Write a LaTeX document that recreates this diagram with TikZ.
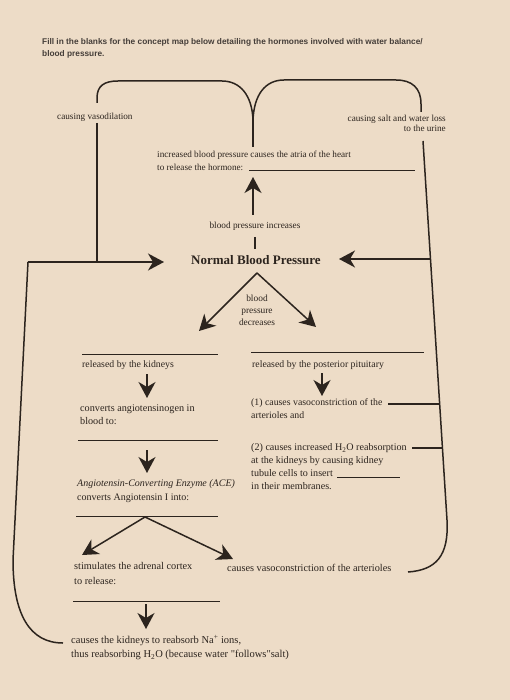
\documentclass[tikz,border=0pt]{standalone}
\usepackage{fontspec}
\setmainfont{Liberation Serif}
\newfontfamily\titlefont{Liberation Sans}
\usetikzlibrary{arrows.meta}
\definecolor{paper}{RGB}{237,220,199}
\definecolor{ink}{RGB}{44,36,30}
\newcommand{\fsz}[2]{\fontsize{#1}{#2}\selectfont}
\begin{document}
\begin{tikzpicture}[x=1pt,y=-1pt,
  ln/.style={draw=ink,line width=1.5pt},
  blank/.style={draw=ink,line width=0.8pt},
  arr/.style={ln,-{Stealth[length=16pt,width=17pt,inset=5pt]}},
  txt/.style={text=ink,font=\fsz{9.2}{13},inner sep=0pt,align=left,anchor=north west},
  ctxt/.style={txt,align=center,anchor=north},
  title/.style={text=ink!88,font=\titlefont\bfseries\fsz{8.3}{12.5},inner sep=0pt,align=left,anchor=north west}]
\fill[paper] (0,0) rectangle (510,700);
\useasboundingbox (0,0) rectangle (510,700);

% title
\node[title] (ttl) at (42,38) {Fill in the blanks for the concept map below detailing the hormones involved with water balance/\\blood pressure.};

% top labels
\node[txt,anchor=west] (vaso) at (57,117) {causing vasodilation};
\node[txt,align=right,anchor=north east,font=\fsz{9.2}{10}] (salt) at (446,115) {causing salt and water loss\\to the urine};

% top bracket
\coordinate (cusp) at (253,120);
\draw[ln] (97,103) -- (97,98) .. controls (97,86) and (104,81) .. (118,81) -- (222,81)
  .. controls (240,81) and (252,95) .. (cusp)
  .. controls (254,95) and (265,80) .. (284,80) -- (396,80)
  .. controls (412,80) and (421,88) .. (421,104) -- (421,112);
\draw[ln] (cusp) -- (253,147);

% atria text
\node[txt] (atria) at (157,150.8) {increased blood pressure causes the atria of the heart\\to release the hormone:};
\draw[blank] (249,170) -- (415,170);

% up arrow
\node[ctxt,anchor=center,font=\fsz{9.3}{13}] (bpi) at (255,226) {blood pressure increases};
\draw[arr] (253,215) -- (253,177);
\draw[ln] (255,237) -- (255,249);

% normal BP
\node[text=ink,font=\bfseries\fsz{13}{15},inner sep=0pt] (nbp) at (256,260) {Normal Blood Pressure};

% left system
\coordinate (Ltop) at (97,123);
\coordinate (Lj) at (97,262);
\coordinate (Lc) at (28,262);
\draw[ln] (Ltop) -- (Lj);
\draw[arr] (Lc) -- (164,262);
\draw[ln] (Lc) -- (13,560) .. controls (13,615) and (30,643) .. (63,643);

% right system
\coordinate (Rtop) at (423,141);
\coordinate (Rj) at (430,259);
\draw[ln] (Rtop) -- (447,520) .. controls (449,556) and (436,570) .. (408,572);
\draw[arr] (Rj) -- (339,259);

% decreases split
\coordinate (apex) at (257,273);
\draw[arr] (apex) -- (199,331);
\draw[arr] (apex) -- (316,327);
\node[ctxt,font=\fsz{9.4}{12}] (bpd) at (257,294.6) {blood\\pressure\\decreases};

% left column
\draw[blank] (82,354) -- (218,354);
\node[txt,anchor=west,font=\fsz{9.8}{13}] (kid) at (82,365.5) {released by the kidneys};
\draw[arr] (147,374) -- (147,398);
\node[txt,font=\fsz{10.2}{13}] (conv) at (80,404.3) {converts angiotensinogen in\\blood to:};
\draw[blank] (78,440) -- (218,440);
\draw[arr] (147,450) -- (147,473);
\node[txt,font=\itshape\fsz{10}{14}] (ace) at (77,479.4) {Angiotensin-Converting Enzyme (ACE)\\\upshape converts Angiotensin I into:};
\draw[blank] (76,516) -- (218,516);
\coordinate (apex2) at (145,517);
\draw[arr] (apex2) -- (82,555);
\draw[arr] (apex2) -- (233,559);
\node[txt,font=\fsz{10.3}{14.5}] (adr) at (74,562.3) {stimulates the adrenal cortex\\to release:};
\node[txt,anchor=west,font=\fsz{10.3}{14}] (vc2) at (227,567.5) {causes vasoconstriction of the arterioles};
\draw[blank] (73,601) -- (220,601);
\draw[arr] (146,604) -- (146,629);
\node[txt,font=\fsz{10.5}{14}] (na) at (71,635.2) {causes the kidneys to reabsorb Na\textsuperscript{+} ions,\\thus reabsorbing H\textsubscript{2}O (because water \textquotedbl follows\textquotedbl salt)};

% right column
\draw[blank] (251,352) -- (424,352);
\node[txt,anchor=west,font=\fsz{9.8}{13}] (pit) at (252,365.5) {released by the posterior pituitary};
\draw[arr] (322,373) -- (322,396);
\node[txt,font=\fsz{9.8}{13}] (one) at (251,398.5) {(1) causes vasoconstriction of the\\arterioles and};
\draw[ln] (388,404) -- (439.6,404);
\node[txt,font=\fsz{10.1}{13}] (two) at (251,443.4) {(2) causes increased H\textsubscript{2}O reabsorption\\at the kidneys by causing kidney\\tubule cells to insert\\in their membranes.};
\draw[ln] (412,448) -- (442.4,448);
\draw[blank] (337,477) -- (400,477);
\end{tikzpicture}
\end{document}
